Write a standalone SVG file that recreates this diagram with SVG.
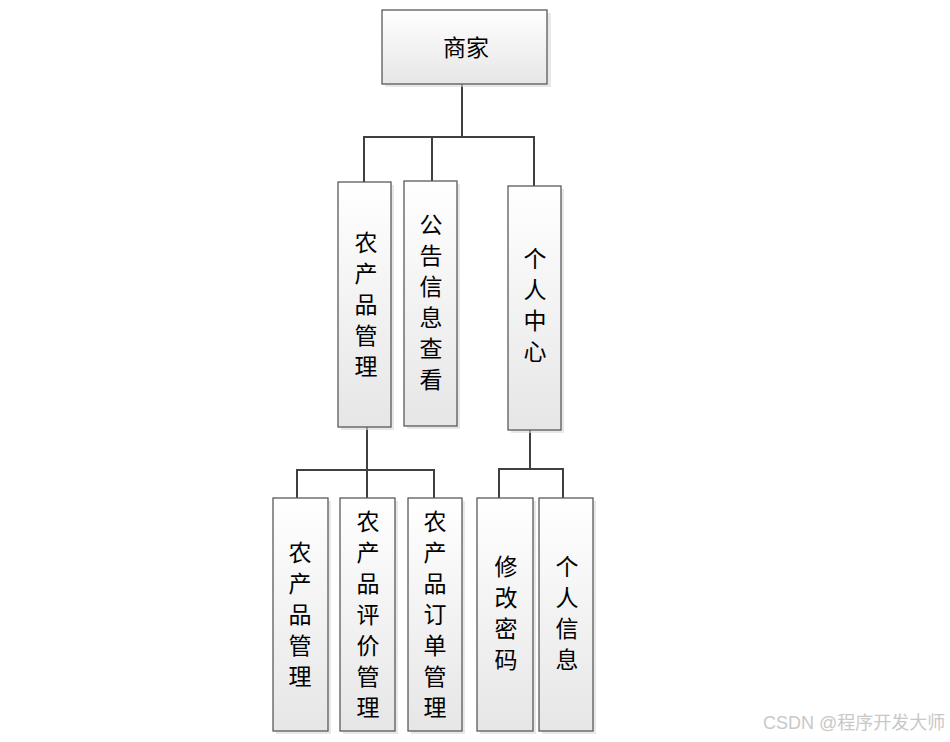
<svg xmlns="http://www.w3.org/2000/svg" width="950" height="742" viewBox="0 0 950 742">
<defs>
<linearGradient id="g" x1="0" y1="0" x2="0" y2="1">
<stop offset="0" stop-color="#ffffff"/>
<stop offset="1" stop-color="#e6e6e6"/>
</linearGradient>
<style>
.box{fill:url(#g);stroke:#5a5a5a;stroke-width:1.3}
.sh{fill:#d9d9d9;opacity:0.6}
.t{font-family:"Liberation Sans","Noto Sans CJK SC",sans-serif;font-size:23px;fill:#000;text-anchor:middle}
.c{fill:none;stroke:#404040;stroke-width:2}
</style>
</defs>
<rect width="950" height="742" fill="#fff"/>
<g id="connectors">
<path class="c" d="M462 84V137M364 182V137H534V186M432 137V181"/>
<path class="c" d="M367 427V498M297 498V470H434V498"/>
<path class="c" d="M530 430V469M499 498V469H563V498"/>
</g>
<g id="n-shangjia">
<rect class="sh" x="385" y="13" width="166" height="74"/>
<rect class="box" x="382" y="10" width="165" height="74"/>
<text class="t" x="466" y="56" font-size="25">商家</text>
</g>
<g id="n-ncpgl">
<rect class="sh" x="341" y="185" width="53" height="245"/>
<rect class="box" x="338" y="182" width="53" height="245"/>
<text class="t" x="366"><tspan x="366" y="251">农</tspan><tspan x="366" y="282">产</tspan><tspan x="366" y="313">品</tspan><tspan x="366" y="344">管</tspan><tspan x="366" y="375">理</tspan></text>
</g>
<g id="n-gonggao">
<rect class="sh" x="407" y="184" width="53" height="245"/>
<rect class="box" x="404" y="181" width="53" height="245"/>
<text class="t" x="431"><tspan x="431" y="233">公</tspan><tspan x="431" y="264">告</tspan><tspan x="431" y="295">信</tspan><tspan x="431" y="326">息</tspan><tspan x="431" y="357">查</tspan><tspan x="431" y="388">看</tspan></text>
</g>
<g id="n-grzx">
<rect class="sh" x="511" y="189" width="53" height="244"/>
<rect class="box" x="508" y="186" width="53" height="244"/>
<text class="t" x="535"><tspan x="535" y="267">个</tspan><tspan x="535" y="298">人</tspan><tspan x="535" y="329">中</tspan><tspan x="535" y="360">心</tspan></text>
</g>
<g id="n-ncpgl2">
<rect class="sh" x="276" y="501" width="55" height="233"/>
<rect class="box" x="273" y="498" width="55" height="233"/>
<text class="t" x="300"><tspan x="300" y="561">农</tspan><tspan x="300" y="592">产</tspan><tspan x="300" y="623">品</tspan><tspan x="300" y="654">管</tspan><tspan x="300" y="685">理</tspan></text>
</g>
<g id="n-pjgl">
<rect class="sh" x="343" y="501" width="55" height="233"/>
<rect class="box" x="340" y="498" width="55" height="233"/>
<text class="t" x="368"><tspan x="368" y="530">农</tspan><tspan x="368" y="561">产</tspan><tspan x="368" y="592">品</tspan><tspan x="368" y="623">评</tspan><tspan x="368" y="654">价</tspan><tspan x="368" y="685">管</tspan><tspan x="368" y="716">理</tspan></text>
</g>
<g id="n-ddgl">
<rect class="sh" x="411" y="501" width="54" height="233"/>
<rect class="box" x="408" y="498" width="54" height="233"/>
<text class="t" x="435"><tspan x="435" y="530">农</tspan><tspan x="435" y="561">产</tspan><tspan x="435" y="592">品</tspan><tspan x="435" y="623">订</tspan><tspan x="435" y="654">单</tspan><tspan x="435" y="685">管</tspan><tspan x="435" y="716">理</tspan></text>
</g>
<g id="n-xgmm">
<rect class="sh" x="480" y="501" width="56" height="233"/>
<rect class="box" x="477" y="498" width="56" height="233"/>
<text class="t" x="506"><tspan x="506" y="575">修</tspan><tspan x="506" y="606">改</tspan><tspan x="506" y="637">密</tspan><tspan x="506" y="668">码</tspan></text>
</g>
<g id="n-grxx">
<rect class="sh" x="542" y="501" width="54" height="233"/>
<rect class="box" x="539" y="498" width="54" height="233"/>
<text class="t" x="567"><tspan x="567" y="575">个</tspan><tspan x="567" y="606">人</tspan><tspan x="567" y="637">信</tspan><tspan x="567" y="668">息</tspan></text>
</g>
<text x="763" y="729" font-family="Liberation Sans,'Noto Sans CJK SC',sans-serif" font-size="18" fill="#c8c8c8">CSDN @程序开发大师</text>
</svg>
